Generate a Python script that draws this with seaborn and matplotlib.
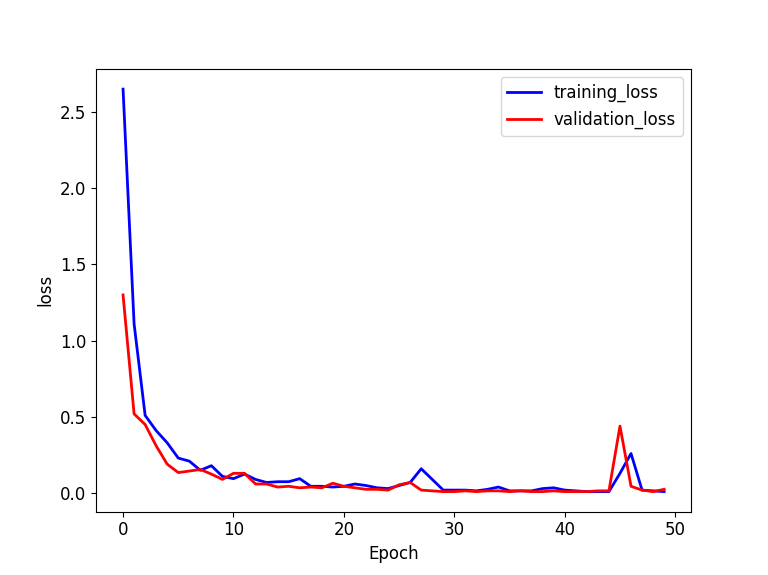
import matplotlib
matplotlib.use("Agg")
import matplotlib.pyplot as plt
import seaborn as sns
import pandas as pd

epochs = list(range(50))
training_loss = [2.65, 1.11, 0.51, 0.41, 0.33, 0.23, 0.21, 0.15, 0.18, 0.11,
                 0.095, 0.125, 0.09, 0.07, 0.075, 0.075, 0.095, 0.045, 0.045, 0.04,
                 0.045, 0.06, 0.05, 0.035, 0.03, 0.05, 0.07, 0.16, 0.09, 0.02,
                 0.02, 0.02, 0.015, 0.025, 0.04, 0.015, 0.015, 0.015, 0.03, 0.035,
                 0.02, 0.015, 0.01, 0.01, 0.01, 0.13, 0.26, 0.02, 0.015, 0.01]
validation_loss = [1.30, 0.52, 0.45, 0.31, 0.19, 0.135, 0.145, 0.155, 0.125, 0.09,
                   0.13, 0.13, 0.06, 0.06, 0.04, 0.045, 0.035, 0.04, 0.035, 0.065,
                   0.045, 0.035, 0.025, 0.025, 0.02, 0.055, 0.07, 0.02, 0.015, 0.01,
                   0.01, 0.015, 0.01, 0.015, 0.015, 0.01, 0.015, 0.01, 0.01, 0.015,
                   0.01, 0.01, 0.01, 0.015, 0.015, 0.44, 0.045, 0.02, 0.01, 0.025]

df = pd.DataFrame({"Epoch": epochs, "training_loss": training_loss,
                   "validation_loss": validation_loss})

plt.rcParams["font.size"] = 12
fig, ax = plt.subplots(figsize=(7.68, 5.75), dpi=100)
sns.lineplot(data=df, x="Epoch", y="training_loss", color="blue", label="training_loss", ax=ax, linewidth=2)
sns.lineplot(data=df, x="Epoch", y="validation_loss", color="red", label="validation_loss", ax=ax, linewidth=2)
ax.set_xlabel("Epoch")
ax.set_ylabel("loss")
ax.legend(loc="upper right")
fig.savefig("out.png", dpi=100)
